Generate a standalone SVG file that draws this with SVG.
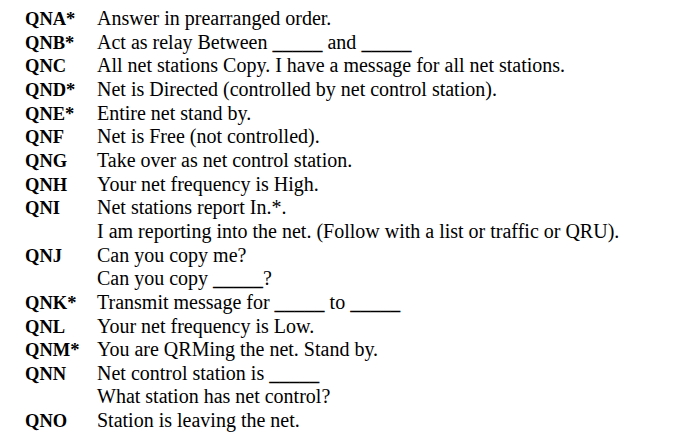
<svg xmlns="http://www.w3.org/2000/svg" width="678" height="448" viewBox="0 0 678 448">
<style>
text{font-family:"Liberation Serif","Times New Roman",serif;font-size:20px;fill:#000}
.c{font-weight:bold;font-size:18.5px}
.u{font-weight:bold}
</style>
<rect width="678" height="448" fill="#fff"/>
<g id="codes">
<text class="c" x="25" y="25">QNA*</text>
<text class="c" x="25" y="48.6">QNB*</text>
<text class="c" x="25" y="72.3">QNC</text>
<text class="c" x="25" y="96">QND*</text>
<text class="c" x="25" y="119.6">QNE*</text>
<text class="c" x="25" y="143.3">QNF</text>
<text class="c" x="25" y="166.9">QNG</text>
<text class="c" x="25" y="190.6">QNH</text>
<text class="c" x="25" y="214.2">QNI</text>
<text class="c" x="25" y="261.5">QNJ</text>
<text class="c" x="25" y="308.8">QNK*</text>
<text class="c" x="25" y="332.5">QNL</text>
<text class="c" x="25" y="356.1">QNM*</text>
<text class="c" x="25" y="379.8">QNN</text>
<text class="c" x="25" y="427">QNO</text>
</g>
<g id="desc">
<text x="97" y="25">Answer in prearranged order.</text>
<text x="97" y="48.6">Act as relay Between <tspan class="u">_____</tspan> and <tspan class="u">_____</tspan></text>
<text x="97" y="72.3">All net stations Copy. I have a message for all net stations.</text>
<text x="97" y="96">Net is Directed (controlled by net control station).</text>
<text x="97" y="119.6">Entire net stand by.</text>
<text x="97" y="143.3">Net is Free (not controlled).</text>
<text x="97" y="166.9">Take over as net control station.</text>
<text x="97" y="190.6">Your net frequency is High.</text>
<text x="97" y="214.2">Net stations report In.*.</text>
<text x="97" y="237.9">I am reporting into the net. (Follow with a list or traffic or QRU).</text>
<text x="97" y="261.5">Can you copy me?</text>
<text x="97" y="285.2">Can you copy <tspan class="u">_____</tspan>?</text>
<text x="97" y="308.8">Transmit message for <tspan class="u">_____</tspan> to <tspan class="u">_____</tspan></text>
<text x="97" y="332.5">Your net frequency is Low.</text>
<text x="97" y="356.1">You are QRMing the net. Stand by.</text>
<text x="97" y="379.8">Net control station is <tspan class="u">_____</tspan></text>
<text x="97" y="403.4">What station has net control?</text>
<text x="97" y="427">Station is leaving the net.</text>
</g>
</svg>
